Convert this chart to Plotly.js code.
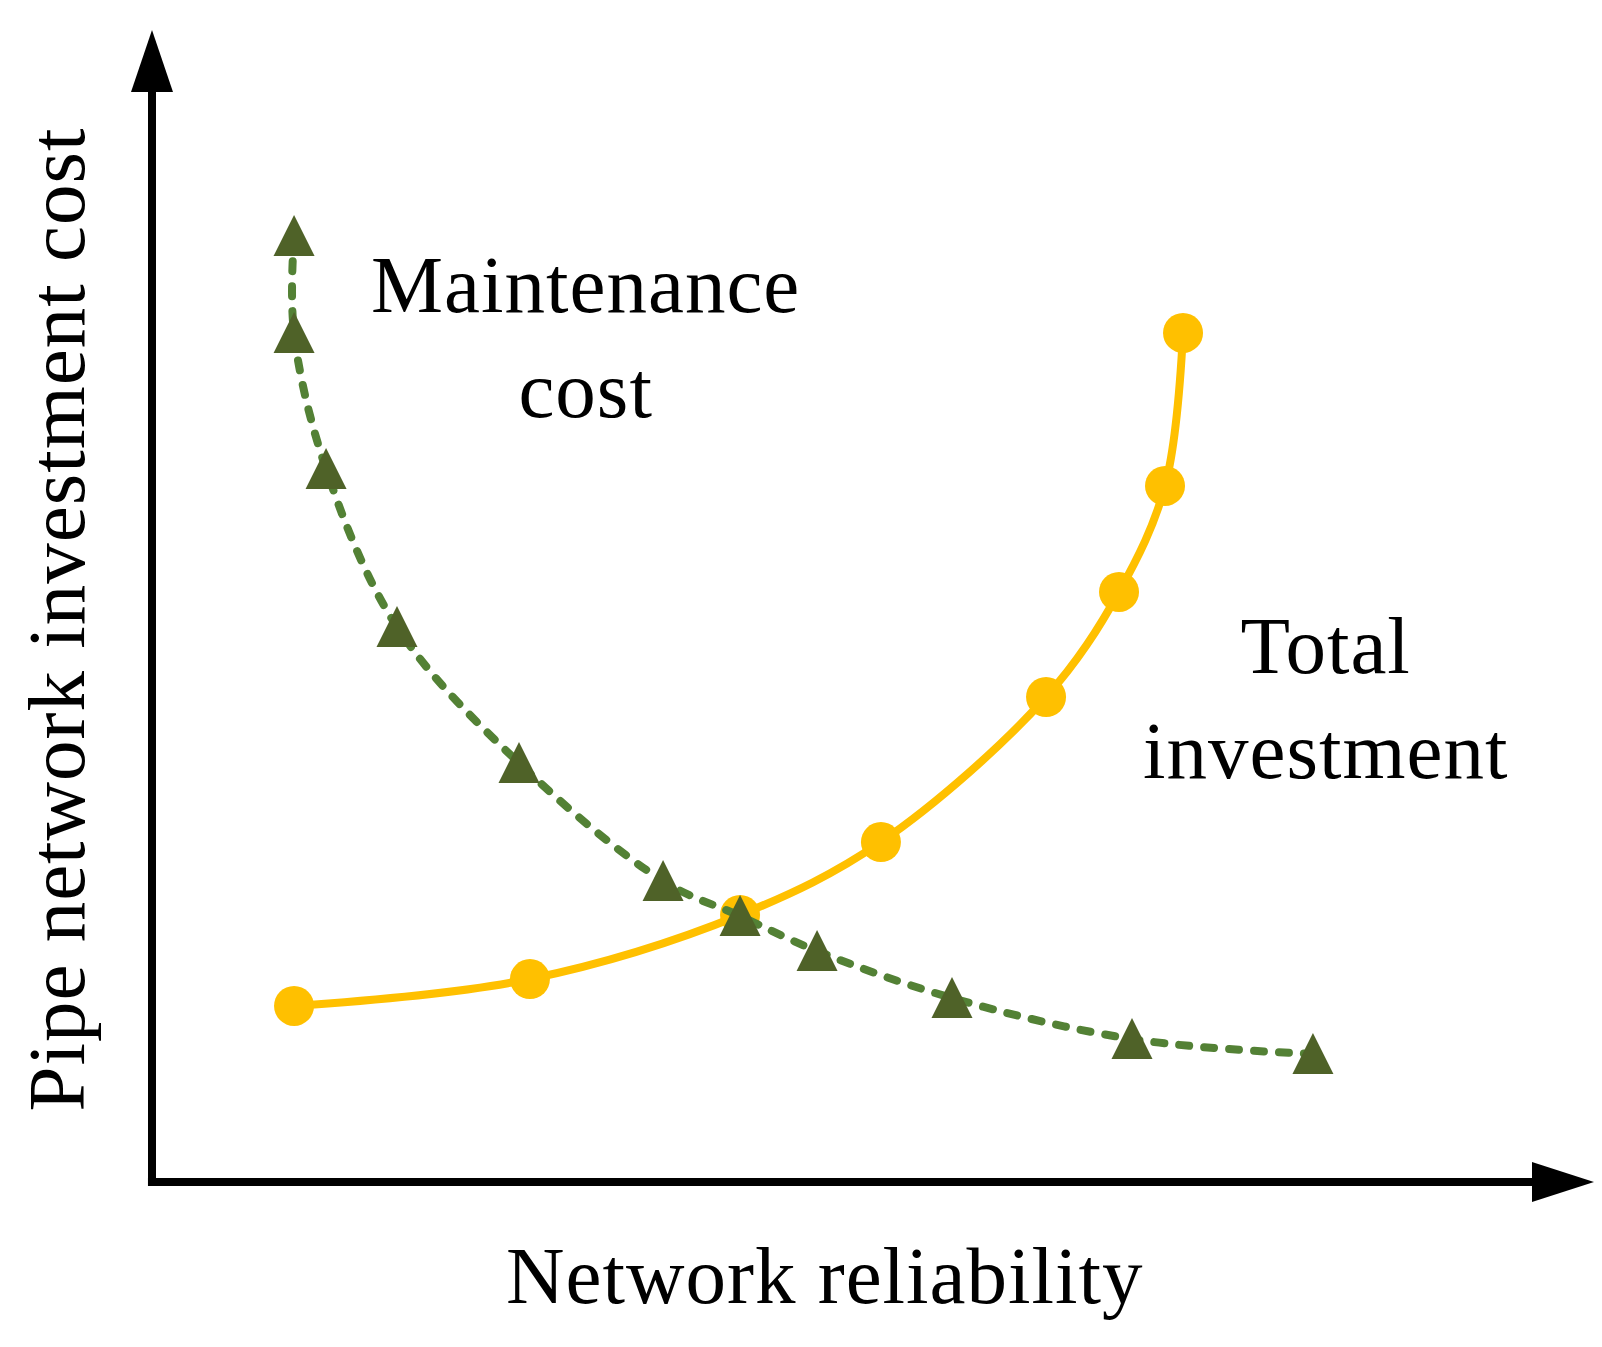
<!DOCTYPE html>
<html>
<head>
<meta charset="utf-8">
<script src="https://cdn.plot.ly/plotly-3.0.1.min.js"></script>
<style>
  html, body { margin: 0; padding: 0; background: #ffffff; }
  #chart { width: 1602px; height: 1347px; }
  .js-line { stroke-linecap: round; }
  .annotation-text { letter-spacing: 1px; }
</style>
</head>
<body>
<div id="chart"></div>
<script>
// Total investment (yellow circles, solid line)
const totalX = [9.85, 26.21, 40.78, 50.55, 62.0, 67.06, 70.25, 71.5];
const totalY = [15.28, 17.62, 23.18, 29.51, 42.1, 51.22, 60.42, 73.7];

// Maintenance cost (green triangles, dashed line)
const maintX = [9.85, 9.85, 12.07, 16.99, 25.45, 35.44, 40.78, 46.12, 55.48, 67.96, 80.51];
const maintY = [82.12, 73.70, 61.89, 48.18, 36.37, 26.13, 23.09, 20.05, 15.97, 12.41, 11.11];

// Text labels
const xTitle = 'Network reliability';
const yTitle = 'Pipe network investment cost';
const maintLabel = 'Maintenance<br>cost';
const totalLabel = 'Total<br>investment';

const FONT = 'Liberation Serif, Times New Roman, serif';
const FS = 81;

// triangle markers (tip-anchored) are drawn on an overlay axis shifted up by ~21 px
const PLOT_H = 1152;
const shift = 21 / PLOT_H * 100;

const traces = [
  {
    x: totalX, y: totalY,
    type: 'scatter', mode: 'lines+markers',
    line: { color: '#FFC000', width: 8, shape: 'spline', smoothing: 1 },
    marker: { color: '#FFC000', size: 40, symbol: 'circle' },
    cliponaxis: false, hoverinfo: 'skip', showlegend: false
  },
  {
    x: maintX, y: maintY,
    type: 'scatter', mode: 'lines',
    line: { color: '#538135', width: 8, shape: 'spline', smoothing: 1, dash: '10px,15px' },
    cliponaxis: false, hoverinfo: 'skip', showlegend: false
  },
  {
    x: maintX, y: maintY, yaxis: 'y2',
    type: 'scatter', mode: 'markers',
    marker: { color: '#4F6228', size: 41, symbol: 'arrow-up' },
    cliponaxis: false, hoverinfo: 'skip', showlegend: false
  }
];

const layout = {
  width: 1602, height: 1347,
  margin: { l: 152, r: 8, t: 30, b: 165, pad: 0 },
  paper_bgcolor: '#ffffff', plot_bgcolor: '#ffffff',
  showlegend: false,
  xaxis: { range: [0, 100], visible: false, fixedrange: true },
  yaxis: { range: [0, 100], visible: false, fixedrange: true },
  yaxis2: { range: [-shift, 100 - shift], visible: false, fixedrange: true, overlaying: 'y' },
  shapes: [
    { type: 'line', xref: 'paper', yref: 'paper', x0: 0, x1: 0, y0: -0.0035, y1: 0.947,
      line: { color: '#000000', width: 8 } },
    { type: 'line', xref: 'paper', yref: 'paper', x0: -0.0028, x1: 0.958, y0: 0, y1: 0,
      line: { color: '#000000', width: 8 } },
    { type: 'path', xref: 'paper', yref: 'paper',
      path: 'M -0.01456 0.9462 L 0.01456 0.9462 L 0 1 Z',
      fillcolor: '#000000', line: { width: 0 } },
    { type: 'path', xref: 'paper', yref: 'paper',
      path: 'M 0.957 -0.01736 L 0.957 0.01736 L 1 0 Z',
      fillcolor: '#000000', line: { width: 0 } }
  ],
  annotations: [
    { text: xTitle, xref: 'paper', yref: 'paper', x: 0.4667, y: -0.0816, showarrow: false,
      xanchor: 'center', yanchor: 'middle', font: { family: FONT, size: FS, color: '#000000' } },
    { text: yTitle, xref: 'paper', yref: 'paper', x: -0.0655, y: 0.4878, showarrow: false, textangle: -90,
      xanchor: 'center', yanchor: 'middle', font: { family: FONT, size: FS, color: '#000000' } },
    { text: maintLabel, xref: 'x', yref: 'y', x: 30.03, y: 73.35, showarrow: false, align: 'center',
      xanchor: 'center', yanchor: 'middle', font: { family: FONT, size: FS, color: '#000000' } },
    { text: totalLabel, xref: 'x', yref: 'y', x: 81.41, y: 41.93, showarrow: false, align: 'center',
      xanchor: 'center', yanchor: 'middle', font: { family: FONT, size: FS, color: '#000000' } }
  ]
};

Plotly.newPlot('chart', traces, layout, { staticPlot: true, displayModeBar: false });
</script>
</body>
</html>
